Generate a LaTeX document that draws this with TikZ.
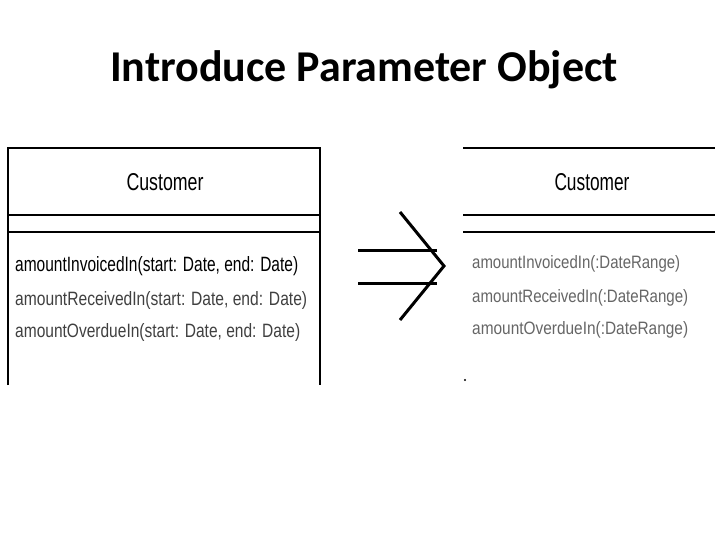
\documentclass[tikz,border=0pt]{standalone}
\usepackage{fontspec}
\setmainfont{Liberation Sans}
\newfontfamily\titlefont{Carlito}
\begin{document}
\begin{tikzpicture}[x=1pt,y=-1pt,
  ln/.style={line width=1.6pt},
  op/.style={anchor=west,inner sep=0pt},
  ttl/.style={font=\titlefont\bfseries\fontsize{44}{48}\selectfont}]
\useasboundingbox[fill=white] (0,0) rectangle (728,546);
\node[ttl] (title) at (364,70) {Introduce Parameter Object};
% left class
\draw[ln] (8,385) -- (8,148) -- (320,148) -- (320,385);
\draw[ln] (8,215) -- (320,215);
\draw[ln] (8,232) -- (320,232);
\node (c1) at (165,182) {\resizebox{77pt}{17pt}{Customer}};
\node[op] (a1) at (15,266) {\resizebox{283pt}{15pt}{amountInvoicedIn(start: Date, end: Date)}};
\node[op,text=black!75] (a2) at (15,300) {\resizebox{292pt}{14pt}{amountReceivedIn(start: Date, end: Date)}};
\node[op,text=black!75] (a3) at (15,332) {\resizebox{285pt}{14pt}{amountOverdueIn(start: Date, end: Date)}};
% arrow
\draw[line width=3pt] (358,250) -- (437,250);
\draw[line width=3pt] (358,283) -- (437,283);
\draw[line width=3pt,line join=miter] (400,212) -- (444,266) -- (400,320);
% right class
\draw[ln] (463,148) -- (715,148);
\draw[ln] (463,215) -- (715,215);
\draw[ln] (463,232) -- (715,232);
\node (c2) at (592,182) {\resizebox{75pt}{17pt}{\mdseries Customer}};
\node[op,text=black!60] (b1) at (472,264) {\resizebox{208pt}{13pt}{amountInvoicedIn(:DateRange)}};
\node[op,text=black!60] (b2) at (472,298) {\resizebox{216pt}{13pt}{amountReceivedIn(:DateRange)}};
\node[op,text=black!60] (b3) at (472,330) {\resizebox{216pt}{13pt}{amountOverdueIn(:DateRange)}};
\fill (465,380) circle (1.2);
\end{tikzpicture}
\end{document}
